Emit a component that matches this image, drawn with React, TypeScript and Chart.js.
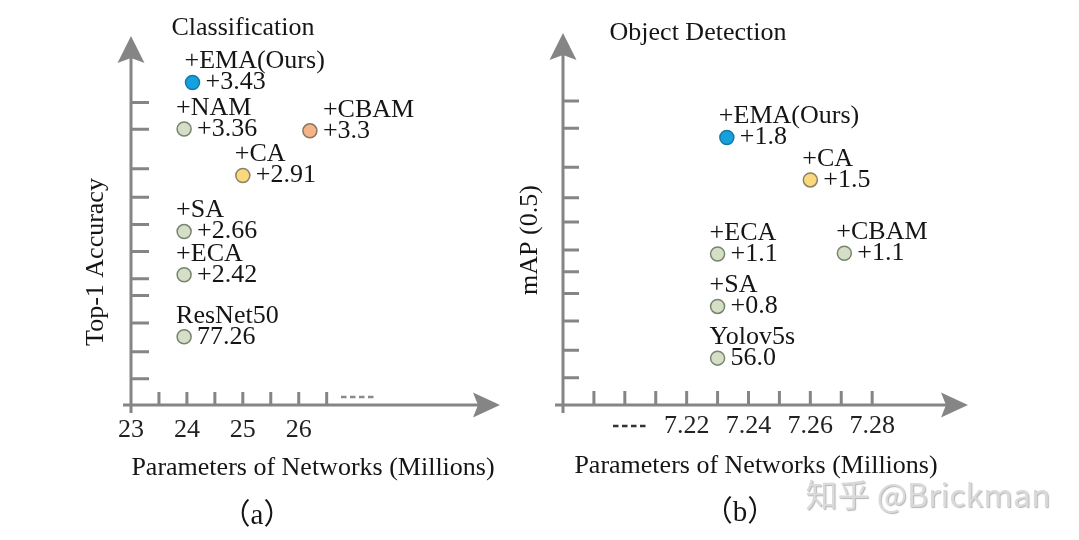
import React, { useEffect, useRef } from 'react';
import { Chart, registerables } from 'chart.js';

Chart.register(...registerables);

// ---------- Panel (a): Classification ----------
const clsNames = ['+EMA(Ours)', '+NAM', '+CBAM', '+CA', '+SA', '+ECA', 'ResNet50'];
const clsGains = ['+3.43', '+3.36', '+3.3', '+2.91', '+2.66', '+2.42', '77.26'];
const clsParams = [24.1, 23.95, 26.2, 25.0, 23.95, 23.95, 23.95];
// vertical placement on the (unlabelled) accuracy axis, 0 = axis origin, 100 = arrow tip
const clsLevel = [87.4, 74.8, 74.3, 62.2, 47.0, 35.3, 18.5];
const clsKind = ['ours', 'other', 'cbam', 'ca', 'other', 'other', 'other'];
const clsXTicks = [23.5, 24, 24.5, 25, 25.5, 26, 26.5];
const clsXLabels = [23, 24, 25, 26];
const clsYTicks = [82.0, 74.7, 64.0, 56.3, 48.9, 41.6, 34.2, 29.7, 22.2, 14.4, 7.1];

// ---------- Panel (b): Object Detection ----------
const detNames = ['+EMA(Ours)', '+CA', '+ECA', '+CBAM', '+SA', 'Yolov5s'];
const detGains = ['+1.8', '+1.5', '+1.1', '+1.1', '+0.8', '56.0'];
const detParams = [7.233, 7.26, 7.23, 7.271, 7.23, 7.23];
const detLevel = [71.9, 60.5, 40.6, 40.8, 26.5, 12.6];
const detKind = ['ours', 'ca', 'other', 'other', 'other', 'other'];
const detXTicks = [7.19, 7.2, 7.21, 7.22, 7.23, 7.24, 7.25, 7.26, 7.27, 7.28];
const detXLabels = [7.22, 7.24, 7.26, 7.28];
const detYTicks = [81.7, 74.4, 63.9, 55.7, 49.2, 41.7, 35.8, 30.0, 22.6, 14.7, 7.3];

const FILL: Record<string, string> = {
  ours: '#14a1dd',
  other: '#d5dfc8',
  cbam: '#f5b487',
  ca: '#fad97e',
};
const EDGE: Record<string, string> = {
  ours: '#1778a6',
  other: '#77856c',
  cbam: '#8a7661',
  ca: '#8a8263',
};

const SERIF = "'Liberation Serif', 'Times New Roman', 'Noto Sans CJK SC', serif";
const AXIS = '#858585';

type Spec = {
  left: number;
  width: number;
  padding: { left: number; right: number; top: number; bottom: number };
  xMin: number;
  xMax: number;
  names: string[];
  gains: string[];
  params: number[];
  level: number[];
  kind: string[];
  xTicks: number[];
  xLabels: number[];
  labelDigits: number;
  yTicks: number[];
  yTickLen: number;
  xTickLen: number;
  tickLabelY: number;
  title: string;
  titlePos: [number, number];
  xTitlePos: [number, number];
  yTitle: string;
  yTitlePos: [number, number];
  sub: string;
  subPos: [number, number];
  dash: { x0: number; x1: number; y: number; color: string };
  nameAtValue: number[];
  watermark?: { text: string; x: number; y: number };
};

function text(ctx: CanvasRenderingContext2D, s: string, x: number, y: number, align: CanvasTextAlign, font: string, color = '#151515') {
  ctx.save();
  ctx.font = font;
  ctx.fillStyle = color;
  ctx.textAlign = align;
  ctx.textBaseline = 'middle';
  ctx.fillText(s, x, y);
  ctx.restore();
}

function arrowHead(ctx: CanvasRenderingContext2D, tx: number, ty: number, dir: 'up' | 'right', len: number, half: number) {
  ctx.beginPath();
  if (dir === 'up') {
    ctx.moveTo(tx, ty);
    ctx.lineTo(tx - half, ty + len);
    ctx.lineTo(tx, ty + len - 5);
    ctx.lineTo(tx + half, ty + len);
  } else {
    ctx.moveTo(tx, ty);
    ctx.lineTo(tx - len, ty - half);
    ctx.lineTo(tx - len + 5, ty);
    ctx.lineTo(tx - len, ty + half);
  }
  ctx.closePath();
  ctx.fillStyle = AXIS;
  ctx.fill();
}

function makeDecor(spec: Spec) {
  return {
    id: 'decor',
    beforeDatasetsDraw(chart: any) {
      const ctx: CanvasRenderingContext2D = chart.ctx;
      const a = chart.chartArea;
      const xs = chart.scales.x;
      const ys = chart.scales.y;
      ctx.save();
      ctx.strokeStyle = AXIS;
      ctx.lineWidth = 3;
      ctx.lineCap = 'butt';
      // axes
      ctx.beginPath();
      ctx.moveTo(a.left - 8, a.bottom);
      ctx.lineTo(a.right - 20, a.bottom);
      ctx.moveTo(a.left, a.bottom + 8);
      ctx.lineTo(a.left, a.top + 20);
      ctx.stroke();
      arrowHead(ctx, a.right, a.bottom, 'right', 27, 12.5);
      arrowHead(ctx, a.left, a.top, 'up', 27, 13.5);
      // y ticks
      ctx.beginPath();
      spec.yTicks.forEach((v) => {
        const py = ys.getPixelForValue(v);
        ctx.moveTo(a.left, py);
        ctx.lineTo(a.left + spec.yTickLen, py);
      });
      // x ticks
      spec.xTicks.forEach((v) => {
        const px = xs.getPixelForValue(v);
        ctx.moveTo(px, a.bottom);
        ctx.lineTo(px, a.bottom - spec.xTickLen);
      });
      ctx.stroke();
      // axis break dashes
      ctx.beginPath();
      ctx.setLineDash([5.5, 3.5]);
      ctx.lineWidth = 2.5;
      ctx.strokeStyle = spec.dash.color;
      ctx.moveTo(spec.dash.x0, spec.dash.y);
      ctx.lineTo(spec.dash.x1, spec.dash.y);
      ctx.stroke();
      ctx.restore();

      // tick labels
      spec.xLabels.forEach((v) => {
        text(ctx, v.toFixed(spec.labelDigits), xs.getPixelForValue(v), spec.tickLabelY, 'center', `26px ${SERIF}`, '#222');
      });
      // titles
      text(ctx, spec.title, spec.titlePos[0], spec.titlePos[1], 'center', `26px ${SERIF}`);
      text(ctx, 'Parameters of Networks (Millions)', spec.xTitlePos[0], spec.xTitlePos[1], 'center', `26px ${SERIF}`);
      ctx.save();
      ctx.translate(spec.yTitlePos[0], spec.yTitlePos[1]);
      ctx.rotate(-Math.PI / 2);
      text(ctx, spec.yTitle, 0, 0, 'center', `26px ${SERIF}`);
      ctx.restore();
      text(ctx, spec.sub, spec.subPos[0], spec.subPos[1], 'center', `29px ${SERIF}`);
      if (spec.watermark) {
        ctx.save();
        ctx.shadowColor = 'rgba(110,110,110,0.5)';
        ctx.shadowOffsetX = 1;
        ctx.shadowOffsetY = 1;
        ctx.shadowBlur = 1;
        text(ctx, spec.watermark.text, spec.watermark.x, spec.watermark.y, 'center', `32px 'Noto Sans CJK SC', 'Noto Sans', sans-serif`, '#dadada');
        ctx.restore();
      }
    },
    afterDatasetsDraw(chart: any) {
      const ctx: CanvasRenderingContext2D = chart.ctx;
      const meta = chart.getDatasetMeta(0);
      meta.data.forEach((el: any, i: number) => {
        const x = el.x;
        const y = el.y;
        const valueDx = 13;
        const nameDx = spec.nameAtValue.includes(i) ? valueDx : -8;
        text(ctx, spec.names[i], x + nameDx, y - 21, 'left', `26px ${SERIF}`);
        text(ctx, spec.gains[i], x + valueDx, y, 'left', `26px ${SERIF}`);
      });
    },
  };
}

const specA: Spec = {
  left: 0,
  width: 510,
  padding: { left: 131, right: 10, top: 36, bottom: 135 },
  xMin: 23,
  xMax: 29.6,
  names: clsNames,
  gains: clsGains,
  params: clsParams,
  level: clsLevel,
  kind: clsKind,
  xTicks: clsXTicks,
  xLabels: clsXLabels,
  labelDigits: 0,
  yTicks: clsYTicks,
  yTickLen: 18,
  xTickLen: 13,
  tickLabelY: 430,
  title: 'Classification',
  titlePos: [243, 28],
  xTitlePos: [313, 468],
  yTitle: 'Top-1 Accuracy',
  yTitlePos: [96, 262],
  sub: '（a）',
  subPos: [257, 516],
  dash: { x0: 341, x1: 376, y: 397, color: '#8a8a8a' },
  nameAtValue: [2],
};

const specB: Spec = {
  left: 510,
  width: 569,
  padding: { left: 53, right: 111, top: 33, bottom: 135 },
  xMin: 7.18,
  xMax: 7.311,
  names: detNames,
  gains: detGains,
  params: detParams,
  level: detLevel,
  kind: detKind,
  xTicks: detXTicks,
  xLabels: detXLabels,
  labelDigits: 2,
  yTicks: detYTicks,
  yTickLen: 16,
  xTickLen: 14,
  tickLabelY: 426,
  title: 'Object Detection',
  titlePos: [188, 33],
  xTitlePos: [246, 466],
  yTitle: 'mAP (0.5)',
  yTitlePos: [20, 240],
  sub: '（b）',
  subPos: [230, 513],
  dash: { x0: 103, x1: 138, y: 426, color: '#333333' },
  nameAtValue: [],
  watermark: { text: '知乎 @Brickman', x: 418, y: 495 },
};

function Panel({ spec }: { spec: Spec }) {
  const ref = useRef<HTMLCanvasElement>(null);
  useEffect(() => {
    if (!ref.current) return;
    const chart = new Chart(ref.current, {
      type: 'scatter',
      data: {
        datasets: [
          {
            data: spec.params.map((p, i) => ({ x: p, y: spec.level[i] })),
            pointRadius: 7,
            pointBorderWidth: 1.5,
            pointBackgroundColor: spec.kind.map((k) => FILL[k]),
            pointBorderColor: spec.kind.map((k) => EDGE[k]),
            showLine: false,
          },
        ],
      },
      options: {
        animation: false,
        responsive: false,
        devicePixelRatio: 1,
        clip: false as any,
        layout: { padding: spec.padding },
        plugins: { legend: { display: false }, tooltip: { enabled: false }, title: { display: false } },
        scales: {
          x: { type: 'linear', min: spec.xMin, max: spec.xMax, display: false },
          y: { type: 'linear', min: 0, max: 100, display: false },
        },
      },
      plugins: [makeDecor(spec)],
    });
    return () => chart.destroy();
  }, [spec]);
  return (
    <canvas
      ref={ref}
      width={spec.width}
      height={540}
      style={{ position: 'absolute', left: spec.left, top: 0, width: spec.width, height: 540 }}
    />
  );
}

export default function App() {
  return (
    <div style={{ position: 'absolute', left: 0, top: 0, width: 1079, height: 540, background: '#ffffff', overflow: 'hidden' }}>
      <Panel spec={specA} />
      <Panel spec={specB} />
    </div>
  );
}
